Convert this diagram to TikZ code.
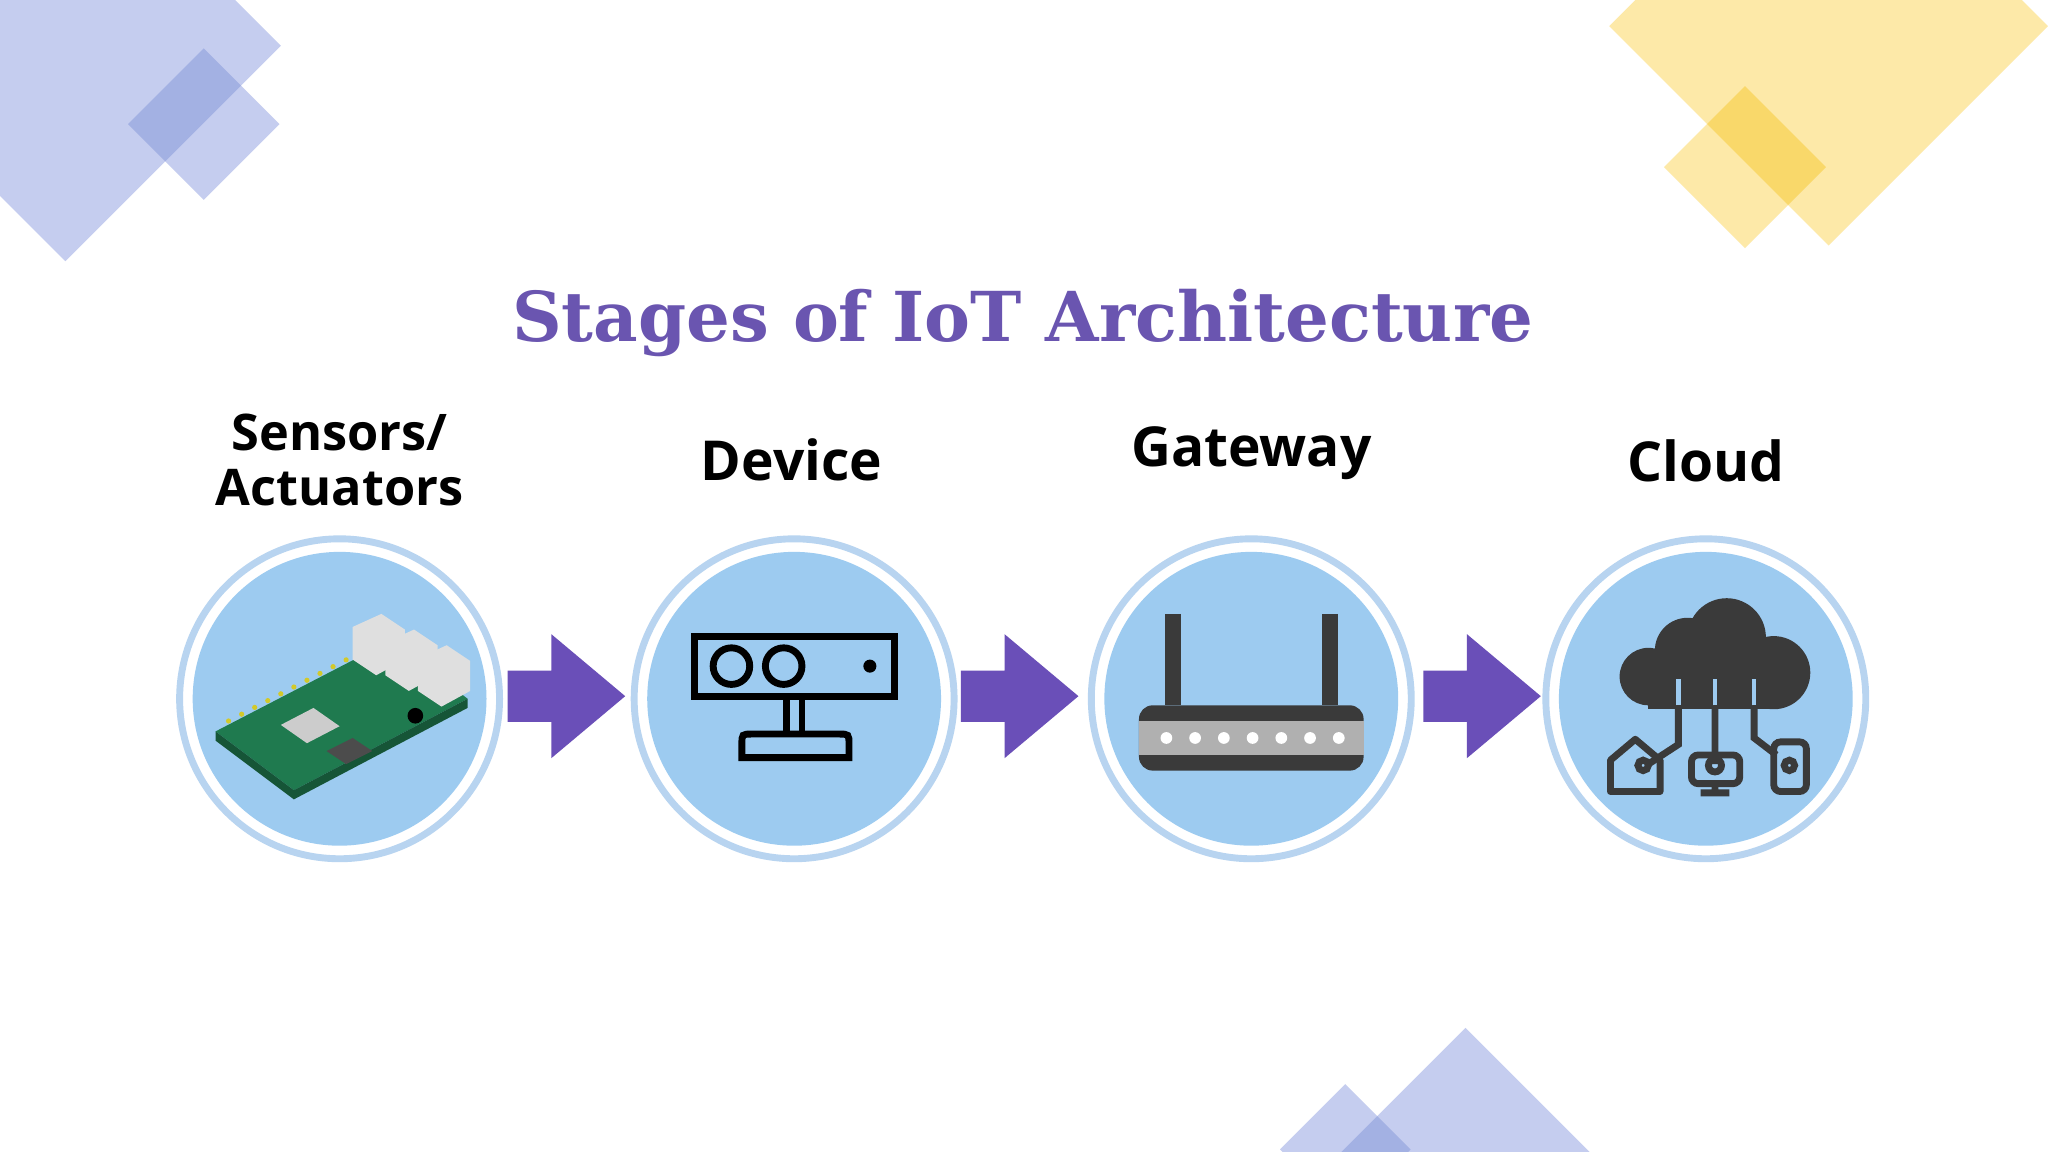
\documentclass[tikz,border=0pt]{standalone}
\usepackage{fontspec}
\setmainfont{Open Sans}
\newfontfamily\titlefont{DejaVu Serif}
\usetikzlibrary{shapes.arrows}
\definecolor{lblue}{HTML}{C5CDEF}
\definecolor{dblue}{HTML}{A3B1E3}
\definecolor{lyel}{HTML}{FDE9A8}
\definecolor{dyel}{HTML}{F9D86A}
\definecolor{purp}{HTML}{6A55B0}
\definecolor{arr}{HTML}{6A4FB8}
\definecolor{cfill}{HTML}{9DCBF0}
\definecolor{ring}{HTML}{B8D4F0}
\definecolor{dark}{HTML}{3A3A3A}
\definecolor{board}{HTML}{1F7A4F}
\tikzset{
 stage/.style={circle,draw=ring,line width=3pt,fill=white,minimum size=4.9cm,inner sep=0},
 inner/.style={circle,fill=cfill,minimum size=4.5cm,inner sep=0},
 flow/.style={single arrow,fill=arr,draw=none,minimum height=1.8cm,minimum width=1.9cm,single arrow head extend=0.01cm,single arrow tip angle=80,inner sep=0},
 lab/.style={font=\fontsize{24}{28}\selectfont\bfseries,align=center,text=black},
 ico/.style={line width=3pt,draw=black}
}
\begin{document}
\begin{tikzpicture}[x=0.02cm,y=-0.02cm]
\fill[white] (0,0) rectangle (1568,882);
\useasboundingbox (0,0) rectangle (1568,882);
\begin{scope}
\clip (0,0) rectangle (1568,882);
\fill[lblue] (50,-130)--(215,35)--(50,200)--(-115,35)--cycle;
\fill[lblue] (156,37)--(214,95)--(156,153)--(98,95)--cycle;
\begin{scope}\clip (50,-130)--(215,35)--(50,200)--(-115,35)--cycle;
\fill[dblue] (156,37)--(214,95)--(156,153)--(98,95)--cycle;\end{scope}
\fill[lyel] (1400,-148)--(1568,20)--(1400,188)--(1232,20)--cycle;
\fill[lyel] (1336,66)--(1398,128)--(1336,190)--(1274,128)--cycle;
\begin{scope}\clip (1400,-148)--(1568,20)--(1400,188)--(1232,20)--cycle;
\fill[dyel] (1336,66)--(1398,128)--(1336,190)--(1274,128)--cycle;\end{scope}
\fill[lblue] (1122,787)--(1267,932)--(1122,1077)--(977,932)--cycle;
\fill[lblue] (1030,830)--(1080,880)--(1030,930)--(980,880)--cycle;
\begin{scope}\clip (1122,787)--(1267,932)--(1122,1077)--(977,932)--cycle;
\fill[dblue] (1030,830)--(1080,880)--(1030,930)--(980,880)--cycle;\end{scope}
\end{scope}
\node[text=purp,font=\titlefont\fontsize{30}{36}\selectfont\bfseries] (title) at (783,247) {Stages of IoT Architecture};
\node[lab,font=\fontsize{22}{24}\selectfont\bfseries] (l1) at (260,352) {Sensors/\\Actuators};
\node[lab] (l2) at (606,352) {Device};
\node[lab] (l3) at (958,347) {Gateway};
\node[lab] (l4) at (1306,353) {Cloud};
\foreach \n/\x in {c1/260,c2/608,c3/958,c4/1306}{
 \node[stage] (\n) at (\x,535) {};
 \node[inner] at (\x,535) {};
}
\node[flow] (a1) at (422,533) {};
\node[flow] (a2) at (769,533) {};
\node[flow] (a3) at (1123,533) {};
% raspberry pi
\fill[board] (165,560)--(300,490)--(358,535)--(225,605)--cycle;
\fill[board!70!black] (165,560)--(225,605)--(225,612)--(165,567)--cycle;
\fill[board!70!black] (225,605)--(358,535)--(358,542)--(225,612)--cycle;
\foreach \i in {0,...,11} \fill[yellow!80!black] ({175+\i*10},{552-\i*5.2}) circle (2);
\fill[gray!40] (215,555)--(240,542)--(260,556)--(235,569)--cycle;
\fill[black!70] (250,575)--(270,565)--(285,575)--(265,585)--cycle;
\foreach \k in {0,1,2} {\fill[gray!25] ({270+\k*25},{480+\k*12})--({292+\k*25},{470+\k*12})--({310+\k*25},{482+\k*12})--({310+\k*25},{505+\k*12})--({288+\k*25},{517+\k*12})--({270+\k*25},{505+\k*12})--cycle;}
\fill[black] (318,548) circle (6);
% device
\draw[ico] (532,487) rectangle (685,533);
\draw[ico] (560,510) circle (14);
\draw[ico] (600,510) circle (14);
\fill (666,510) circle (5);
\draw[ico] (602,533)--(602,562) (614,533)--(614,562);
\draw[ico] (568,580)--(568,570) .. controls (568,562) .. (576,562) -- (642,562) .. controls (650,562) .. (650,570) -- (650,580) -- cycle;
% router
\draw[dark,line width=7pt] (898,470)--(898,540) (1018,470)--(1018,540);
\fill[dark,rounded corners=6] (872,540) rectangle (1044,590);
\fill[white!60!dark] (872,552) rectangle (1044,578);
\foreach \i in {0,...,6} \fill[white] ({893+\i*22},565) circle (4.5);
% cloud
\fill[dark] (1262,518) circle (22) (1292,498) circle (25) (1322,488) circle (30) (1358,515) circle (28);
\fill[dark] (1262,510) rectangle (1358,543);
\draw[dark,line width=3pt] (1285,520)--(1285,570)--(1262,585) (1313,520)--(1313,585) (1343,520)--(1343,565)--(1360,578);
\draw[cfill,line width=2pt] (1285,540)--(1285,520) (1313,540)--(1313,520) (1343,540)--(1343,520);
\draw[dark,line width=3pt,line join=round] (1233,606)--(1233,582)--(1252,566)--(1271,582)--(1271,606)--cycle;
\draw[dark,line width=3pt] (1258,586) circle (4);
\draw[dark,line width=3pt,rounded corners=3] (1295,578) rectangle (1332,600);
\draw[dark,line width=3pt] (1313,586) circle (5) (1313,600)--(1313,607) (1302,607)--(1324,607);
\draw[dark,line width=3pt,rounded corners=3] (1358,568) rectangle (1383,606);
\draw[dark,line width=3pt] (1370,586) circle (4);
\end{tikzpicture}
\end{document}
